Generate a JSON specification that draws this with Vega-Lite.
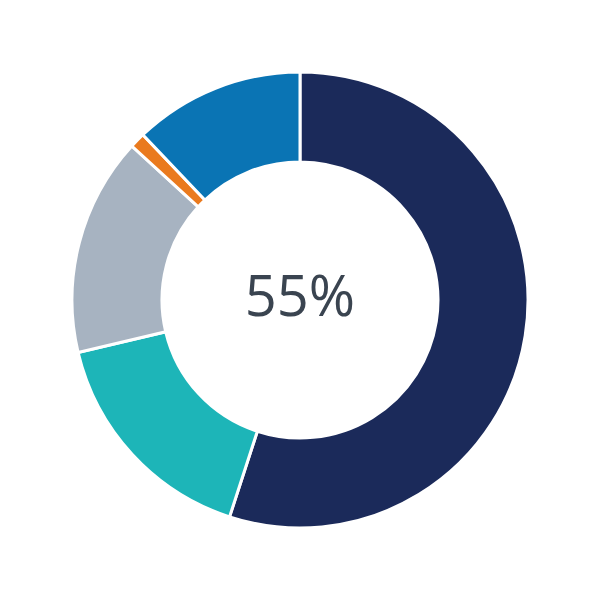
{
  "$schema": "https://vega.github.io/schema/vega-lite/v6.json",
  "width": 600,
  "height": 600,
  "autosize": {"type": "fit", "contains": "padding"},
  "padding": 0,
  "background": "white",
  "config": {"view": {"stroke": null}},
  "data": {"values": [
    {"category": "A", "value": 55.0, "order": 1},
    {"category": "B", "value": 16.3, "order": 2},
    {"category": "C", "value": 15.5, "order": 3},
    {"category": "D", "value": 1.1, "order": 4},
    {"category": "E", "value": 12.1, "order": 5}
  ]},
  "layer": [
    {
      "mark": {"type": "arc", "outerRadius": 228, "innerRadius": 138, "stroke": "white", "strokeWidth": 3},
      "encoding": {
        "theta": {"field": "value", "type": "quantitative", "stack": true},
        "order": {"field": "order", "type": "quantitative"},
        "color": {
          "field": "category", "type": "nominal", "legend": null,
          "scale": {"domain": ["A", "B", "C", "D", "E"], "range": ["#1b2a5a", "#1db5b8", "#a7b3c1", "#ea7a1e", "#0a74b4"]}
        }
      }
    },
    {
      "data": {"values": [{"label": "55%"}]},
      "mark": {"type": "text", "fontSize": 56, "font": "Open Sans", "fontWeight": 400, "color": "#3a4450", "align": "center", "baseline": "middle", "dy": -1},
      "encoding": {"text": {"field": "label", "type": "nominal"}}
    }
  ]
}
